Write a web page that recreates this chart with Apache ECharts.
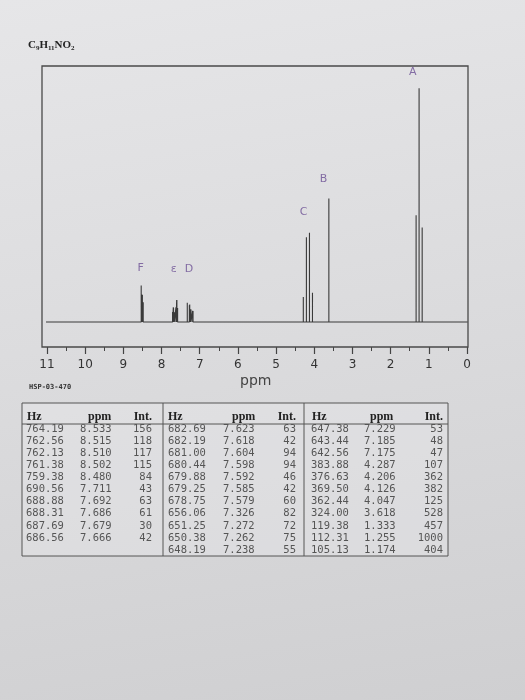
<!DOCTYPE html>
<html><head><meta charset="utf-8">
<script src="https://cdn.jsdelivr.net/npm/echarts@6/dist/echarts.min.js"></script>
<style>
html,body{margin:0;padding:0;}
body{width:525px;height:700px;background:linear-gradient(170deg,#e6e6e8 0%,#dcdcde 45%,#cfcfd1 100%);}
#c{width:525px;height:700px;}
</style></head>
<body><div id="c"></div>
<script>
// ---- data ----
const peakHz = [764.19,762.56,762.13,761.38,759.38,690.56,688.88,688.31,687.69,686.56,
  682.69,682.19,681.00,680.44,679.88,679.25,678.75,656.06,651.25,650.38,648.19,
  647.38,643.44,642.56,383.88,376.63,369.50,362.44,324.00,119.38,112.31,105.13];
const peakPpm = [8.533,8.515,8.510,8.502,8.480,7.711,7.692,7.686,7.679,7.666,
  7.623,7.618,7.604,7.598,7.592,7.585,7.579,7.326,7.272,7.262,7.238,
  7.229,7.185,7.175,4.287,4.206,4.126,4.047,3.618,1.333,1.255,1.174];
const peakInt = [156,118,117,115,84,43,63,61,30,42,
  63,42,94,94,46,42,60,82,72,75,55,
  53,48,47,107,362,382,125,528,457,1000,404];
const tableColumnSizes = [10,11,11];
const tickLabels = ['0','1','2','3','4','5','6','7','8','9','10','11'];
const annLetters = ['F','\u03b5','D','C','B','A'];
const annPpm = [8.55,7.68,7.28,4.28,3.76,1.42];
const annInt = [230,225,225,470,610,1070];

// build spectrum line (stick spectrum) from peak list
const order = peakPpm.map((p,i)=>i).sort((a,b)=>peakPpm[b]-peakPpm[a]);
const spec = [[11.12,0]];
order.forEach(i=>{ spec.push([peakPpm[i],0],[peakPpm[i],peakInt[i]],[peakPpm[i],0]); });
spec.push([-0.02,0]);

const chart = echarts.init(document.getElementById('c'), null, {renderer:'canvas'});

// table graphics
const g = [];
const tX = 22, tY = 403, tW = 426, tH = 153, rowH = 12.1, firstRow = 429;
g.push({type:'rect', shape:{x:tX,y:tY,width:tW,height:tH}, style:{fill:'rgba(236,236,238,0.35)',stroke:'#555',lineWidth:1}});
g.push({type:'line', shape:{x1:tX,y1:424,x2:tX+tW,y2:424}, style:{stroke:'#555',lineWidth:1}});
[163,304].forEach(x=>g.push({type:'line', shape:{x1:x,y1:tY,x2:x,y2:tY+tH}, style:{stroke:'#555',lineWidth:1}}));
const colHz = [26,168,311], colPpm=[80,223,364], colInt=[152,296,443], hdrHz=[27,168,312], hdrPpm=[88,232,370], hdrInt=[152,296,443];
const hdrFont = 'bold 12px "Liberation Serif", serif';
const valFont = '10.5px "DejaVu Sans Mono", monospace';
let k = 0;
tableColumnSizes.forEach((n,c)=>{
  g.push({type:'text', style:{x:hdrHz[c], y:417, text:'Hz', font:hdrFont, fill:'#222', verticalAlign:'middle'}});
  g.push({type:'text', style:{x:hdrPpm[c], y:417, text:'ppm', font:hdrFont, fill:'#222', verticalAlign:'middle'}});
  g.push({type:'text', style:{x:hdrInt[c], y:417, text:'Int.', font:hdrFont, fill:'#222', align:'right', verticalAlign:'middle'}});
  for(let r=0;r<n;r++,k++){
    const y = firstRow + r*rowH;
    g.push({type:'text', style:{x:colHz[c], y:y, text:peakHz[k].toFixed(2), font:valFont, fill:'#555', verticalAlign:'middle'}});
    g.push({type:'text', style:{x:colPpm[c], y:y, text:peakPpm[k].toFixed(3), font:valFont, fill:'#555', verticalAlign:'middle'}});
    g.push({type:'text', style:{x:colInt[c], y:y, text:String(peakInt[k]), font:valFont, fill:'#555', align:'right', verticalAlign:'middle'}});
  }
});
// frame of spectrum
g.push({type:'rect', shape:{x:42,y:66,width:426,height:281}, style:{fill:'none',stroke:'#4a4a4a',lineWidth:1.3}, z:10});
// title
g.push({type:'text', left:28, top:40, style:{
  text:'{m|C}{s|9}{m|H}{s|11}{m|NO}{s|2}',
  rich:{m:{font:'bold 11px "Liberation Serif", serif', fill:'#222'}, s:{font:'bold 7px "Liberation Serif", serif', fill:'#222', padding:[6,0,0,0]}}
}});
g.push({type:'text', left:29, top:384, style:{text:'HSP-03-470', font:'bold 7px "DejaVu Sans Mono", monospace', fill:'#333'}});
g.push({type:'text', left:240, top:374, style:{text:'ppm', font:'14px "DejaVu Sans", sans-serif', fill:'#444'}});

chart.setOption({
  backgroundColor:'transparent',
  animation:false,
  grid:{left:47, right:58, top:66, bottom:353},
  xAxis:{type:'value', inverse:true, min:0, max:11, interval:1, position:'bottom',
    axisLine:{show:false, onZero:false},
    axisTick:{show:true, length:7, lineStyle:{color:'#444',width:1.2}},
    minorTick:{show:true, splitNumber:2, length:4, lineStyle:{color:'#444',width:1}},
    axisLabel:{margin:12, fontSize:12, color:'#333', fontFamily:'DejaVu Sans', formatter:(v)=>tickLabels[Math.round(v)]},
    splitLine:{show:false}},
  yAxis:{type:'value', min:-107, max:1095, show:false, splitLine:{show:false}},
  series:[
    {type:'line', data:spec, symbol:'none', clip:false, lineStyle:{color:'#3a3a3a', width:1.1}},
    {type:'scatter', data:annPpm.map((p,i)=>[p,annInt[i]]), symbolSize:0, silent:true,
      label:{show:true, position:'inside', formatter:(p)=>annLetters[p.dataIndex], color:'#6b4f93', fontSize:11, fontFamily:'DejaVu Sans'}}
  ],
  graphic:g
});
</script></body></html>
